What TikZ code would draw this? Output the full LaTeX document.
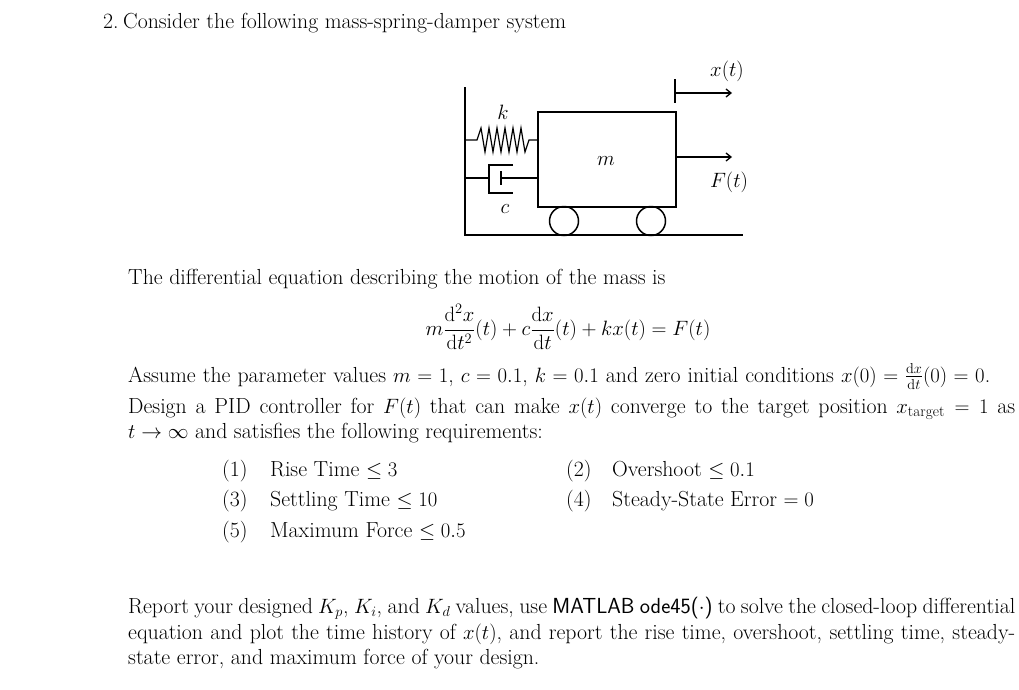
\documentclass[tikz,border=0pt]{standalone}
\usepackage{amsmath,amssymb}
\usetikzlibrary{arrows.meta}
\begin{document}
\begin{tikzpicture}[x=1pt,y=-1pt,
  txt/.style={anchor=base west,inner sep=0pt,font=\fontsize{21.8}{25}\selectfont},
  lbl/.style={inner sep=0pt,font=\fontsize{20}{24}\selectfont},
  mech/.style={line width=1.5pt},
  arr/.style={line width=1.3pt,-{Straight Barb[length=5pt,width=8pt]}}]
\useasboundingbox (0,0) rectangle (1019,689);
% diagram
\draw[mech] (465,87) coordinate (wt) -- (465,235) coordinate (wb) -- (743,235) coordinate (ge);
\node[mech,draw,minimum width=138pt,minimum height=95pt,inner sep=0pt,anchor=north west] (box) at (537,111) {};
\node[lbl] (m) at (606,161) {$m$};
\node[mech,draw,circle,minimum size=29pt,inner sep=0pt] (w1) at (564,221) {};
\node[mech,draw,circle,minimum size=29pt,inner sep=0pt] (w2) at (651,221) {};
% spring
\draw[mech,line width=1.2pt] (465,140) -- (477,140)
  \foreach \i in {0,...,5}{ -- ({481+\i*8},128) -- ({485+\i*8},152)} -- (529,140) -- (537,140);
\node[lbl] (k) at (503,112) {$k$};
% damper
\draw[mech,line width=1.2pt] (465,178) -- (489,178);
\draw[mech,line width=1.2pt] (513,165) -- (489,165) -- (489,193) -- (513,193);
\draw[mech,line width=1.2pt] (501,171) -- (501,185);
\draw[mech,line width=1.2pt] (501,178) -- (537,178);
\node[lbl] (c) at (505,209) {$c$};
% x(t)
\draw[mech,line width=1.2pt] (675,79) -- (675,103);
\coordinate (xs) at (675,93); \coordinate (xe) at (732,93);
\draw[arr] (xs) -- (xe);
\node[lbl] (xl) at (727,71) {$x(t)$};
\coordinate (fs) at (675,157); \coordinate (fe) at (732,157);
\draw[arr] (fs) -- (fe);
\node[lbl] (fl) at (729,182) {$F(t)$};
% text
\node[txt] (t0n) at (103,28) {2.};
\node[txt] (t0) at (123,28) {Consider the following mass-spring-damper system};
\node[txt] (t1) at (128,284) {The differential equation describing the motion of the mass is};
\node[inner sep=0pt,font=\fontsize{21.8}{25}\selectfont] (eq) at (568,327) {$\displaystyle m\frac{\mathrm{d}^2x}{\mathrm{d}t^2}(t)+c\frac{\mathrm{d}x}{\mathrm{d}t}(t)+kx(t)=F(t)$};
\node[txt] (t2) at (128,382) {\hbox to 862pt{Assume the parameter values $m=1$, $c=0.1$, $k=0.1$ and zero initial conditions $x(0)=\frac{\mathrm{d}x}{\mathrm{d}t}(0)=0$.}};
\node[txt] (t3) at (128,413) {\hbox to 887pt{Design a PID controller for $F(t)$ that can make $x(t)$ converge to the target position $x_{\text{target}}=1$ as}};
\node[txt] (t4) at (128,438) {$t\to\infty$ and satisfies the following requirements:};
\node[txt] (n1) at (222,476) {(1)}; \node[txt] (r1) at (270,476) {Rise Time $\le 3$};
\node[txt] (n2) at (566,476) {(2)}; \node[txt] (r2) at (612,476) {Overshoot $\le 0.1$};
\node[txt] (n3) at (222,506) {(3)}; \node[txt] (r3) at (270,506) {Settling Time $\le 10$};
\node[txt] (n4) at (566,506) {(4)}; \node[txt] (r4) at (612,506) {Steady-State Error $=0$};
\node[txt] (n5) at (222,537) {(5)}; \node[txt] (r5) at (270,537) {Maximum Force $\le 0.5$};
\node[txt] (p1) at (128,613) {\hbox to 887pt{Report your designed $K_p$, $K_i$, and $K_d$ values, use \textsf{MATLAB} \textsf{ode45($\cdot$)} to solve the closed-loop differential}};
\node[txt] (p2) at (128,639) {\hbox to 887pt{equation and plot the time history of $x(t)$, and report the rise time, overshoot, settling time, steady-}};
\node[txt] (p3) at (128,664) {state error, and maximum force of your design.};
\end{tikzpicture}
\end{document}
